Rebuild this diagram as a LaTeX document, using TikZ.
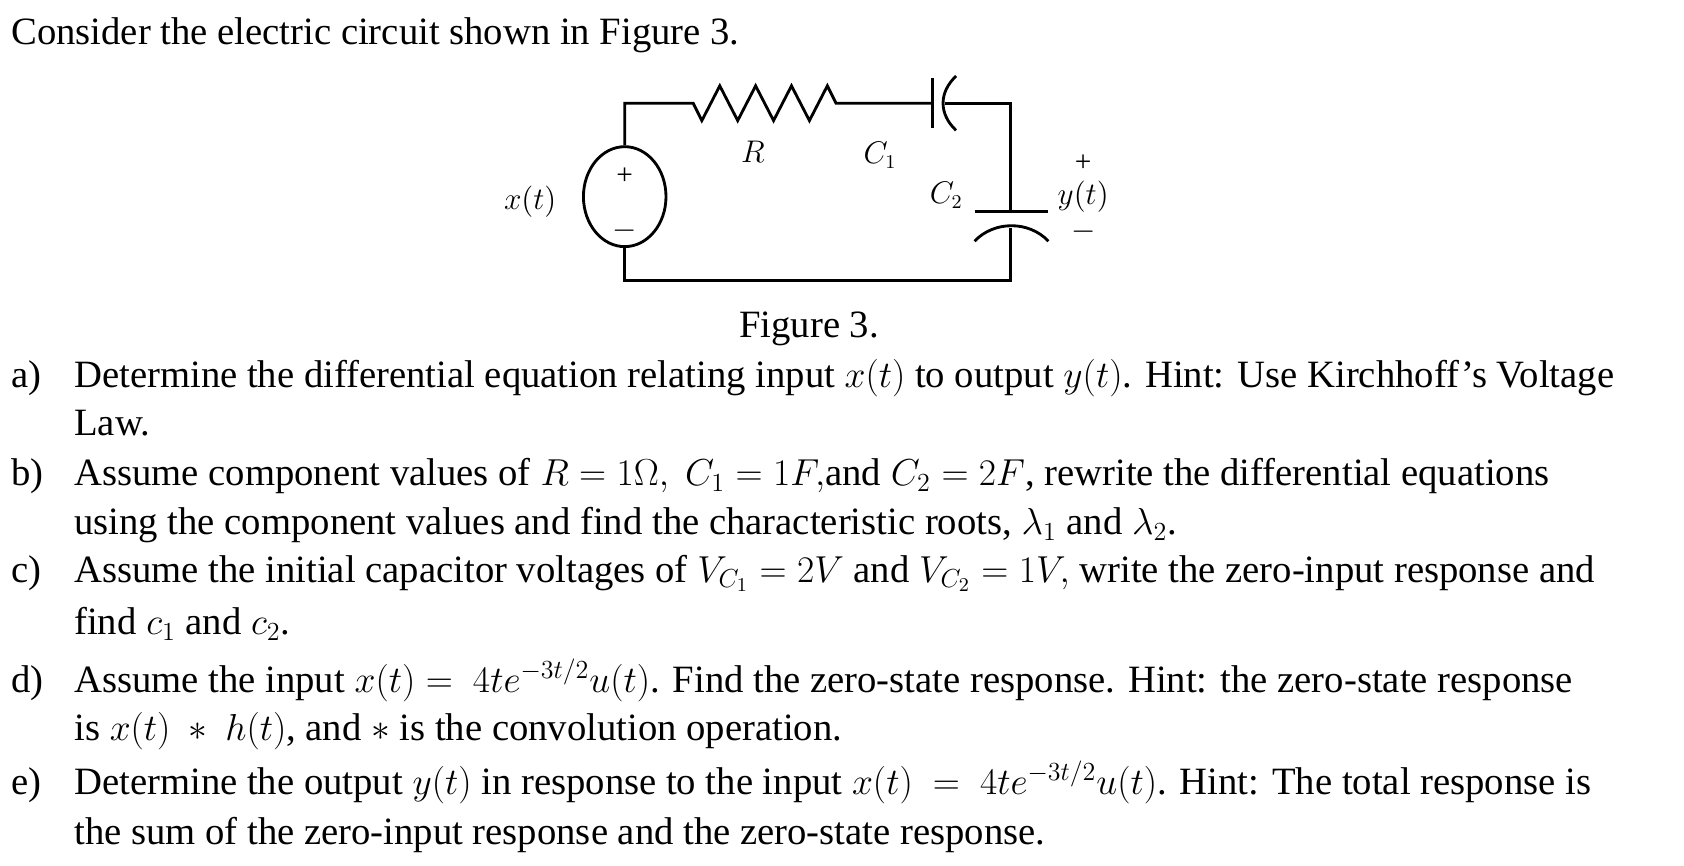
\documentclass[tikz,border=0pt]{standalone}
\usepackage{fontspec}
\setmainfont{Liberation Serif}
\usetikzlibrary{shapes.geometric}
\begin{document}
\begin{tikzpicture}[x=0.5pt,y=-0.5pt,
  wire/.style={line width=1.3pt},
  lab/.style={font=\fontsize{13.5}{14}\selectfont},
  txt/.style={anchor=base west,inner sep=0pt,font=\fontsize{17.8}{20}\selectfont}]
\useasboundingbox (0,0) rectangle (1550,797);
% circuit
\node[draw,wire,ellipse,minimum width=38pt,minimum height=46pt,inner sep=0pt] (src) at (575,181) {};
\coordinate (tl) at (575,95);
\coordinate (bl) at (575,258);
\coordinate (rs) at (638,95);
\coordinate (re) at (770,95);
\coordinate (c1a) at (858,95);
\coordinate (c1b) at (870,95);
\coordinate (tr) at (930,95);
\coordinate (c2a) at (930,195);
\coordinate (c2b) at (930,210);
\coordinate (br) at (930,258);
\draw[wire] (src.north) -- (tl) -- (rs)
  -- ++(8,16) -- ++(16.5,-32) -- ++(16.5,32) -- ++(16.5,-32) -- ++(16.5,32) -- ++(16.5,-32) -- ++(16.5,32) -- ++(16.5,-32) -- ++(8,16) -- (re) -- (c1a);
\draw[wire] (858,72) -- (858,118);
\draw[wire] (880,70) .. controls (864,85) and (864,105) .. (880,120);
\draw[wire] (c1b) -- (tr) -- (c2a);
\draw[wire] (897,195) -- (965,195);
\draw[wire] (897,222) .. controls (915,203) and (947,203) .. (965,222);
\draw[wire] (c2b) -- (br) -- (bl) -- (src.south);
\node[lab] (plus) at (575,162) {+};
\node[lab] (minus) at (575,212) {$-$};
\node[lab] (xt) at (488,186) {$x(t)$};
\node[lab] (R) at (693,140) {$R$};
\node[lab] (C1) at (810,143) {$C_1$};
\node[lab] (C2) at (871,180) {$C_2$};
\node[lab] (yp) at (997,150) {+};
\node[lab] (yt) at (997,181) {$y(t)$};
\node[lab] (ym) at (997,213) {$-$};
% text
\node[txt] (t0) at (10,41) {Consider the electric circuit shown in Figure 3.};
\node[txt] (fig) at (680,311) {Figure 3.};
\node[txt] (a) at (10,357) {a)};
\node[txt] (a1) at (68,357) {Determine the differential equation relating input $x(t)$ to output $y(t)$. Hint: Use Kirchhoff's Voltage};
\node[txt] (a2) at (68,401) {Law.};
\node[txt] (b) at (10,447) {b)};
\node[txt] (b1) at (68,447) {Assume component values of $R=1\Omega,\ C_1=1F,$and $C_2=2F$, rewrite the differential equations};
\node[txt] (b2) at (68,492) {using the component values and find the characteristic roots, $\lambda_1$ and $\lambda_2$.};
\node[txt] (c) at (10,536) {c)};
\node[txt] (c1) at (68,536) {Assume the initial capacitor voltages of $V_{C_1}=2V$ and $V_{C_2}=1V,$ write the zero-input response and};
\node[txt] (c2) at (68,584) {find $c_1$ and $c_2$.};
\node[txt] (d) at (10,637) {d)};
\node[txt] (d1) at (68,637) {Assume the input $x(t) = \ 4te^{-3t/2}u(t)$. Find the zero-state response. Hint: the zero-state response};
\node[txt] (d2) at (68,682) {is $x(t)\ *\ h(t)$, and $*$ is the convolution operation.};
\node[txt] (e) at (10,731) {e)};
\node[txt] (e1) at (68,731) {Determine the output $y(t)$ in response to the input $x(t)\ =\ 4te^{-3t/2}u(t)$. Hint: The total response is};
\node[txt] (e2) at (68,777) {the sum of the zero-input response and the zero-state response.};
\end{tikzpicture}
\end{document}
